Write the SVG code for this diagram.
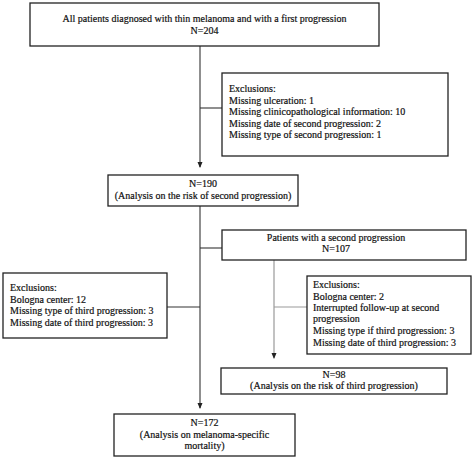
<svg xmlns="http://www.w3.org/2000/svg" width="474" height="460" viewBox="0 0 474 460">
<defs>
<marker id="ah" markerWidth="6" markerHeight="6" refX="5" refY="3" orient="auto" markerUnits="userSpaceOnUse"><path d="M0,0.5 L6,3 L0,5.5 z" fill="#222"/></marker>
<marker id="ahg" markerWidth="6" markerHeight="6" refX="5" refY="3" orient="auto" markerUnits="userSpaceOnUse"><path d="M0,0.5 L6,3 L0,5.5 z" fill="#222"/></marker>
</defs>
<style>
.box{fill:#fff;stroke:#222;stroke-width:1.3}
text{font-family:"Liberation Serif","Times New Roman",serif;font-size:10px;fill:#111;stroke:#111;stroke-width:0.2}
.c{text-anchor:middle}
.ln{stroke:#333;stroke-width:1.1;fill:none}
.gl{stroke:#999;stroke-width:1.2;fill:none}
</style>
<rect width="474" height="460" fill="#fff"/>
<g id="connectors">
<path class="ln" d="M200,46 V167" marker-end="url(#ah)"/>
<path class="ln" d="M200,108 H222"/>
<path class="ln" d="M200,206 V408" marker-end="url(#ah)"/>
<path class="ln" d="M200,248 H222"/>
<path class="ln" d="M167,307 H200"/>
<path class="gl" d="M274,260 V358" marker-end="url(#ahg)"/>
<path class="gl" d="M274,307 H307"/>
</g>
<g id="n1">
<rect class="box" x="30" y="3" width="349" height="43"/>
<text class="c" x="204.5" y="22">All patients diagnosed with thin melanoma and with a first progression</text>
<text class="c" x="204.5" y="34">N=204</text>
</g>
<g id="ex1">
<rect class="box" x="222" y="73" width="226" height="83"/>
<text x="229" y="92">Exclusions:</text>
<text x="229" y="103.5">Missing ulceration: 1</text>
<text x="229" y="115">Missing clinicopathological information: 10</text>
<text x="229" y="126.5">Missing date of second progression: 2</text>
<text x="229" y="138">Missing type of second progression: 1</text>
</g>
<g id="n190">
<rect class="box" x="108" y="175" width="190" height="31"/>
<text class="c" x="203" y="187">N=190</text>
<text class="c" x="203" y="199">(Analysis on the risk of second progression)</text>
</g>
<g id="p107">
<rect class="box" x="222" y="230" width="244" height="30"/>
<text class="c" x="336" y="241">Patients with a second progression</text>
<text class="c" x="336" y="252">N=107</text>
</g>
<g id="exL">
<rect class="box" x="3" y="273" width="164" height="65"/>
<text x="10" y="291">Exclusions:</text>
<text x="10" y="302.5">Bologna center: 12</text>
<text x="10" y="314">Missing type of third progression: 3</text>
<text x="10" y="325.5">Missing date of third progression: 3</text>
</g>
<g id="exR">
<rect class="box" x="307" y="276" width="164" height="78"/>
<text x="313" y="288">Exclusions:</text>
<text x="313" y="299.5">Bologna center: 2</text>
<text x="313" y="311">Interrupted follow-up at second</text>
<text x="313" y="322">progression</text>
<text x="313" y="334">Missing type if third progression: 3</text>
<text x="313" y="345.5">Missing date of third progression: 3</text>
</g>
<g id="n98">
<rect class="box" x="221" y="368" width="226" height="26"/>
<text class="c" x="334" y="378">N=98</text>
<text class="c" x="334" y="389">(Analysis on the risk of third progression)</text>
</g>
<g id="n172">
<rect class="box" x="114" y="414" width="181" height="42"/>
<text class="c" x="204.5" y="426">N=172</text>
<text class="c" x="204.5" y="438">(Analysis on melanoma-specific</text>
<text class="c" x="204.5" y="449">mortality)</text>
</g>
</svg>
